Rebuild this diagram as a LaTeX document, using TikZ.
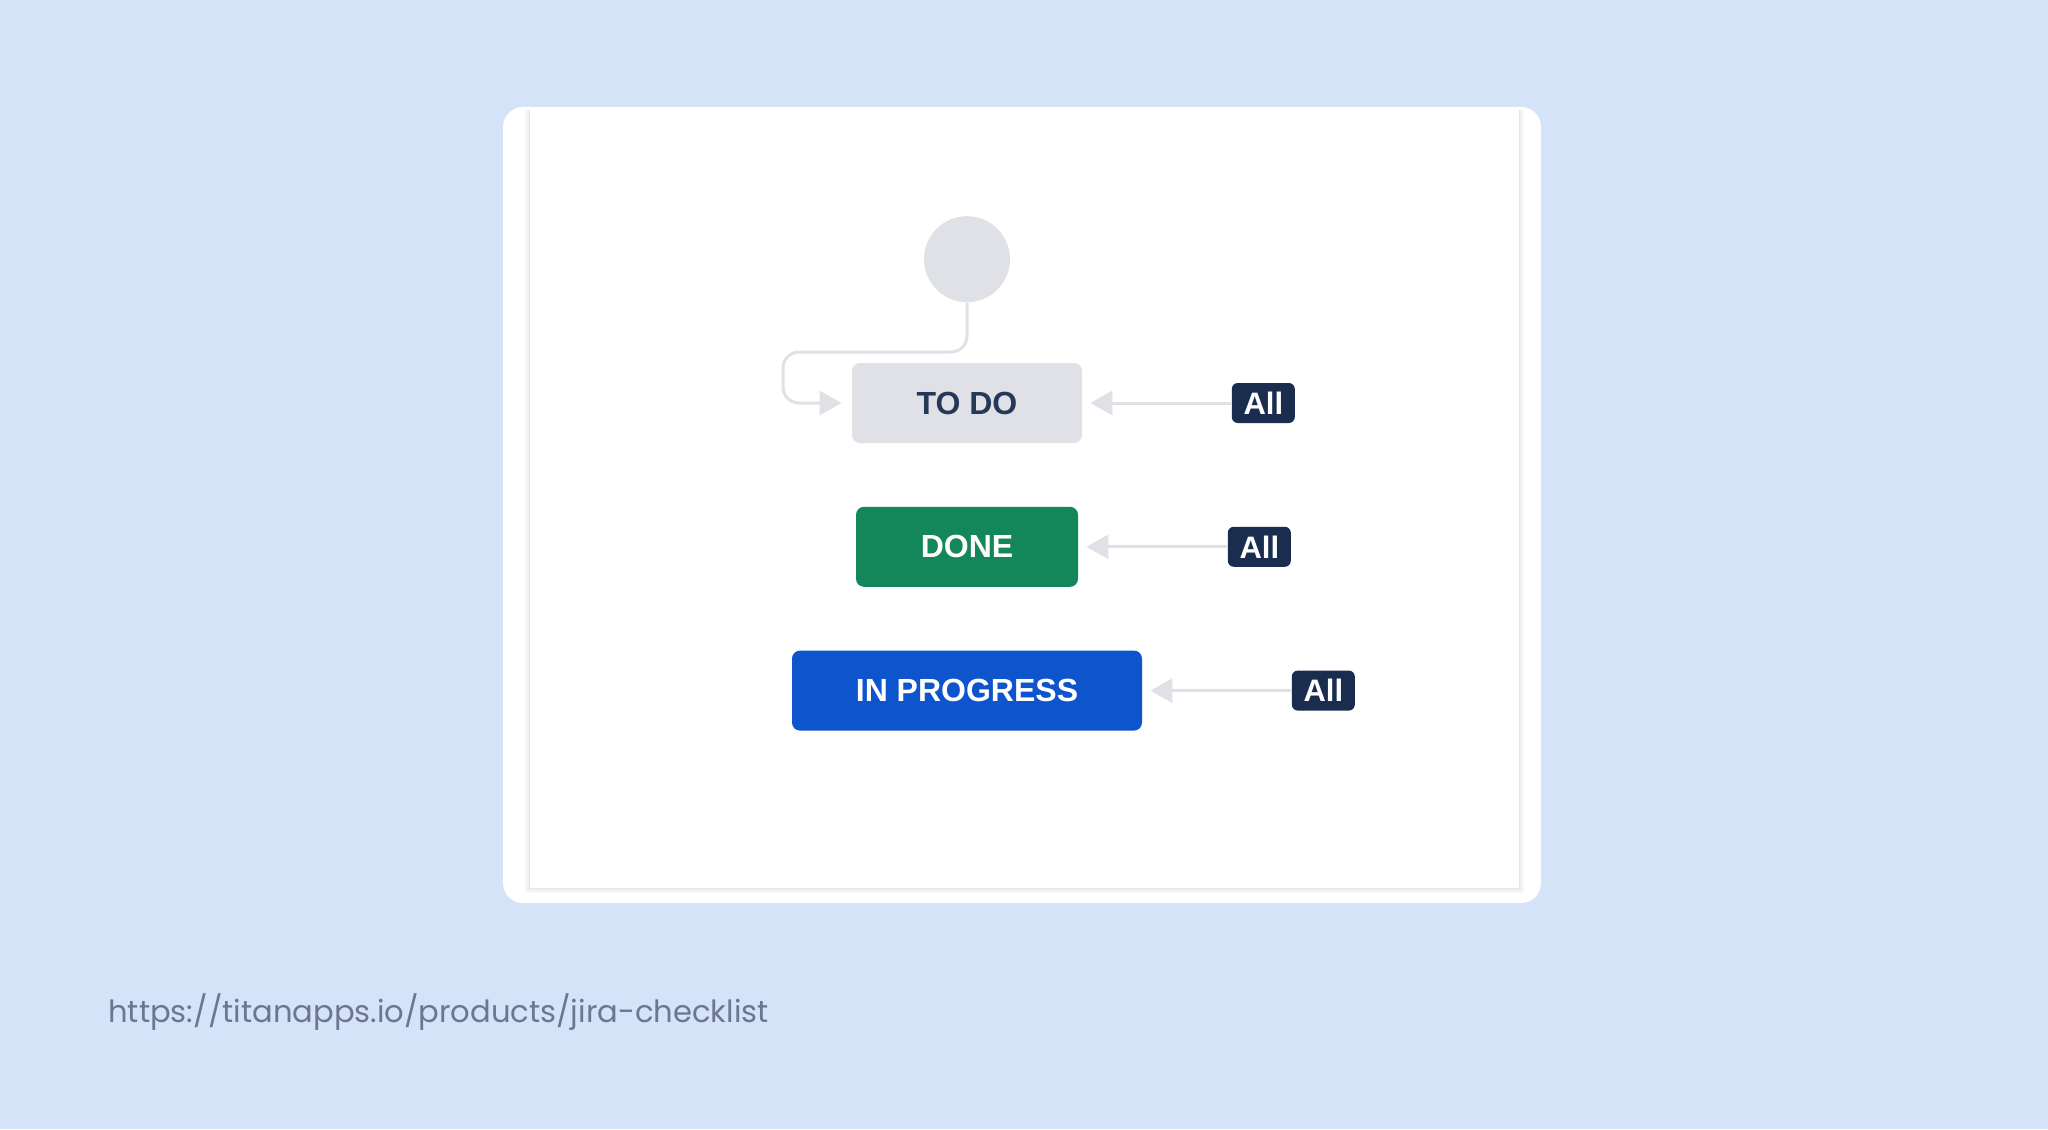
\documentclass[tikz,border=0pt]{standalone}
\usepackage{fontspec}
\setmainfont{Liberation Sans}
\newfontfamily\urlfont{Poppins}
\usepackage{tikz}
\usetikzlibrary{positioning}
\usetikzlibrary{arrows.meta}
\definecolor{bgblue}{HTML}{D4E3F8}
\definecolor{statusgray}{HTML}{DFE1E6}
\definecolor{navy}{HTML}{1B2D4F}
\definecolor{todotext}{HTML}{253858}
\definecolor{donegreen}{HTML}{14875A}
\definecolor{progblue}{HTML}{0E55CD}
\definecolor{urlgray}{HTML}{6E7591}
\tikzset{
  status/.style={rectangle, rounded corners=4pt, minimum height=40pt, inner sep=0pt, font=\bfseries\fontsize{16}{16}\selectfont},
  allbadge/.style={rectangle, rounded corners=3pt, fill=navy, text=white, minimum width=31.5pt, minimum height=20pt, inner sep=0pt, font=\bfseries\fontsize{15.5}{15.5}\selectfont},
  trans/.style={draw=statusgray, line width=1.5pt, -{Triangle[length=11pt,width=12pt]}, shorten >=4pt}
}
\begin{document}
\begin{tikzpicture}[x=0.5pt,y=-0.5pt]
\useasboundingbox (0,0) rectangle (2048,1129);
\fill[bgblue] (0,0) rectangle (2048,1129);
\fill[white, rounded corners=10pt] (503,107) rectangle (1541,903);
% soft shadow round the panel
\foreach \s/\o in {5/3,3/6,1/10} {
  \fill[black!\o] (530-\s,110) rectangle (1519+\s,888+\s);
}
\fill[white] (530,110) rectangle (1519,888);
% statuses
\node[status, fill=statusgray, text=todotext, minimum width=115pt] (todo) at (967,403) {TO DO};
\node[status, fill=donegreen, text=white, minimum width=111pt, below=31.5pt of todo] (done) {DONE};
\node[status, fill=progblue, text=white, minimum width=175pt, below=31.5pt of done] (prog) {IN PROGRESS};
\node[circle, fill=statusgray, minimum size=43pt, inner sep=0pt, above=30pt of todo] (start) {};
% global transitions
\node[allbadge, right=74.5pt of todo] (alltodo) {All};
\node[allbadge, right=74.5pt of done] (alldone) {All};
\node[allbadge, right=74.5pt of prog] (allprog) {All};
\draw[trans] (alltodo) -- (todo);
\draw[trans] (alldone) -- (done);
\draw[trans] (allprog) -- (prog);
\coordinate (bend) at (783,352);
\draw[trans, shorten >=5pt, rounded corners=8pt] (start.south) |- (bend) |- (todo.west);
\node[anchor=base west, inner sep=0pt, text=urlgray, font=\urlfont\fontsize{15.3}{15.3}\selectfont] (url) at (108,1022) {https://titanapps.io/products/jira-checklist};
\end{tikzpicture}
\end{document}
